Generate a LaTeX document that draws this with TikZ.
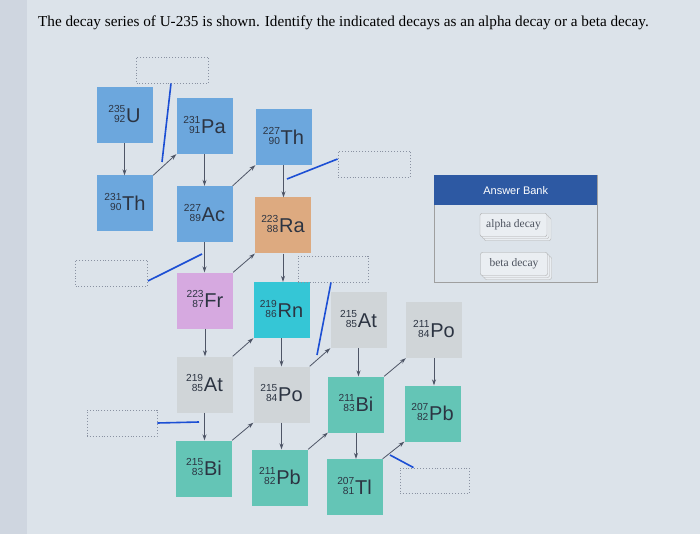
\documentclass[tikz,border=0pt]{standalone}
\usepackage{fontspec}
\setmainfont{Liberation Serif}
\newfontfamily\elemfont{Liberation Sans}
\usetikzlibrary{arrows.meta,shadows}
\definecolor{bg}{HTML}{DCE3EA}
\definecolor{bgstrip}{HTML}{CFD6E0}
\definecolor{cblue}{HTML}{6CA7DD}
\definecolor{corange}{HTML}{DDAA80}
\definecolor{cpurple}{HTML}{D6A9E0}
\definecolor{ccyan}{HTML}{35C6D6}
\definecolor{cgrey}{HTML}{D0D5D8}
\definecolor{cteal}{HTML}{64C5B6}
\definecolor{txt}{HTML}{2C3442}
\definecolor{arr}{HTML}{4E5566}
\definecolor{lead}{HTML}{1C4FD4}
\definecolor{dotc}{HTML}{8A92A2}
\definecolor{hdr}{HTML}{2D59A3}
\newcommand{\iso}[3]{{\elemfont\fontsize{10.2}{9}\selectfont\renewcommand{\arraystretch}{0.97}\raisebox{0pt}{\begin{tabular}[b]{@{}r@{}}#1\\#2\end{tabular}}\hspace{0.8pt}\fontsize{20}{20}\selectfont #3}}
\tikzset{
  elem/.style={minimum width=56pt,minimum height=56pt,inner sep=0pt,text=txt},
  decay/.style={draw=arr,line width=0.8pt,-{Stealth[length=6pt,width=4pt]}},
  blank/.style={draw=dotc,dotted,line width=0.9pt,minimum width=72pt,minimum height=26pt,inner sep=0pt},
  leader/.style={draw=lead,line width=1.6pt},
  btn/.style={draw=gray!70,rounded corners=2pt,fill=bg!60!white,minimum width=67pt,minimum height=23pt,inner sep=0pt,font=\fontsize{11.5}{11.5}\selectfont,text=txt!85,double copy shadow={shadow xshift=2pt,shadow yshift=-2pt,draw=gray!60,fill=bg!60!white}}
}
\begin{document}
\begin{tikzpicture}[x=1pt,y=-1pt]
\fill[bg] (0,0) rectangle (700,534);
\fill[bgstrip] (0,0) rectangle (27,534);
\useasboundingbox (0,0) rectangle (700,534);
\node[anchor=base west,inner sep=0pt,text=black,font=\fontsize{15.2}{16}\selectfont] (title) at (38,27) {The decay series of U-235 is shown. Identify the indicated decays as an alpha decay or a beta decay.};
% elements
\node[elem,fill=cblue] (u235) at (124.5,115) {\iso{235}{92}{U}};
\node[elem,fill=cblue] (th231) at (125,203.5) {\iso{231}{90}{Th}};
\node[elem,fill=cblue] (pa231) at (204.5,126) {\iso{231}{91}{Pa}};
\node[elem,fill=cblue] (ac227) at (204.5,214) {\iso{227}{89}{Ac}};
\node[elem,fill=cblue] (th227) at (283.5,137) {\iso{227}{90}{Th}};
\node[elem,fill=corange] (ra223) at (283,225.5) {\iso{223}{88}{Ra}};
\node[elem,fill=cpurple] (fr223) at (205,300.5) {\iso{223}{87}{Fr}};
\node[elem,fill=ccyan] (rn219) at (281.5,310) {\iso{219}{86}{Rn}};
\node[elem,fill=cgrey] (at219) at (204.5,384.5) {\iso{219}{85}{At}};
\node[elem,fill=cgrey] (po215) at (281.5,394.5) {\iso{215}{84}{Po}};
\node[elem,fill=cgrey] (at215) at (358.5,320) {\iso{215}{85}{At}};
\node[elem,fill=cgrey] (po211) at (434,330) {\iso{211}{84}{Po}};
\node[elem,fill=cteal] (bi211) at (356,404.5) {\iso{211}{83}{Bi}};
\node[elem,fill=cteal] (pb207) at (432.5,413.5) {\iso{207}{82}{Pb}};
\node[elem,fill=cteal] (bi215) at (204,468.5) {\iso{215}{83}{Bi}};
\node[elem,fill=cteal] (pb211) at (280,477.5) {\iso{211}{82}{Pb}};
\node[elem,fill=cteal] (tl207) at (354.5,487) {\iso{207}{81}{Tl}};
% alpha decays (down)
\draw[decay] (u235.south) -- (u235.south |- th231.north);
\draw[decay] (pa231.south) -- (pa231.south |- ac227.north);
\draw[decay] (th227.south) -- (th227.south |- ra223.north);
\draw[decay] (ac227.south) -- (ac227.south |- fr223.north);
\draw[decay] (ra223.south) -- (ra223.south |- rn219.north);
\draw[decay] (fr223.south) -- (fr223.south |- at219.north);
\draw[decay] (rn219.south) -- (rn219.south |- po215.north);
\draw[decay] (at219.south) -- (at219.south |- bi215.north);
\draw[decay] (po215.south) -- (po215.south |- pb211.north);
\draw[decay] (at215.south) -- (at215.south |- bi211.north);
\draw[decay] (po211.south) -- (po211.south |- pb207.north);
\draw[decay] (bi211.south) -- (bi211.south |- tl207.north);
% beta decays (diagonal)
\draw[decay] (th231.north east) -- (pa231.south west);
\draw[decay] (ac227.north east) -- (th227.south west);
\draw[decay] (fr223.north east) -- (ra223.south west);
\draw[decay] (at219.north east) -- (rn219.south west);
\draw[decay] (po215.north east) -- (at215.south west);
\draw[decay] (bi215.north east) -- (po215.south west);
\draw[decay] (pb211.north east) -- (bi211.south west);
\draw[decay] (bi211.north east) -- (po211.south west);
\draw[decay] (tl207.north east) -- (pb207.south west);
% answer blanks
\node[blank] (d1) at (172.5,70) {};
\node[blank] (d2) at (374,164) {};
\node[blank] (d3) at (111.5,273) {};
\node[blank,minimum width=70pt] (d4) at (333,269) {};
\node[blank,minimum width=70pt] (d5) at (122,423) {};
\node[blank,minimum width=69pt,minimum height=25pt] (d6) at (434.5,480.5) {};
% leader lines
\coordinate (e1) at (162,162);
\coordinate (e2) at (287,179);
\coordinate (e3) at (202,254);
\coordinate (e4) at (317,355);
\coordinate (e5) at (199,422);
\coordinate (e6) at (390,455);
\draw[leader] ([xshift=-1.5pt]d1.south) -- (e1);
\draw[leader] ([yshift=5pt]d2.west) -- (e2);
\draw[leader] ([yshift=-8pt]d3.east) -- (e3);
\draw[leader] ([xshift=-2pt]d4.south) -- (e4);
\draw[leader] (d5.east) -- (e5);
\draw[leader] ([xshift=-21pt]d6.north) -- (e6);
% answer bank
\node[draw=gray!75,line width=0.6pt,minimum width=163pt,minimum height=107pt,inner sep=0pt,anchor=north west] (bank) at (434,175) {};
\node[fill=hdr,minimum width=163pt,minimum height=30pt,inner sep=0pt,anchor=north west,text=white,font=\elemfont\fontsize{11}{11}\selectfont] (bankhdr) at (434,175) {Answer Bank};
\node[btn] (alpha) at (513.5,225) {alpha decay};
\node[btn] (beta) at (514,264) {beta decay};
\end{tikzpicture}
\end{document}
